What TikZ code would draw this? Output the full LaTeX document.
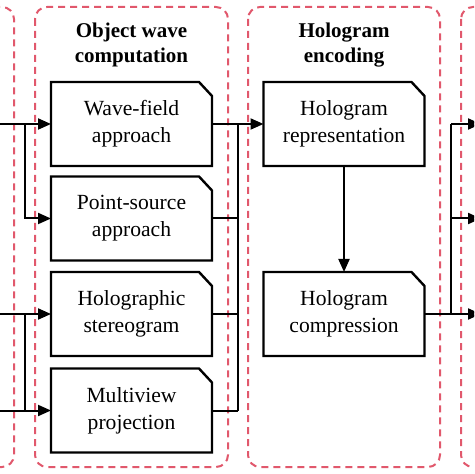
\documentclass[tikz,border=0pt]{standalone}
\usepackage{fontspec}
\setmainfont{Liberation Serif}
\usepackage{tikz}
\usetikzlibrary{positioning,arrows.meta,calc}
\definecolor{groupred}{RGB}{225,88,108}

\begin{document}
\begin{tikzpicture}[
    x=0.5pt,y=-0.5pt,
    line width=1pt,
    font=\fontsize{10.8}{13.5}\selectfont,
    %
    group/.style={draw=groupred, dash pattern=on 3.5pt off 2.5pt, line width=1pt, rounded corners=6pt},
    title/.style={align=center, font=\fontsize{10.5}{12.5}\selectfont\bfseries},
    card/.style={rectangle, minimum width=79.5pt, minimum height=41pt, align=center, inner sep=0pt},
    edge/.style={draw=black, line width=1.2pt},
    %
    pre/.style={-{Triangle[length=6.5pt,width=5.5pt]}}
    ]

    \useasboundingbox (0,0) rectangle (474,474);
    \clip (0,0) rectangle (474,474);

    % stage frames
    \draw[group] (-40,7) rectangle (14,467);
    \draw[group] (35,7) rectangle (228,467);
    \draw[group] (248,7) rectangle (440,467);
    \draw[group] (461,7) rectangle (520,467);

    \node[title] (objtitle) at (131.5,45) {Object wave\\computation};
    \node[title] (enctitle) at (344,45) {Hologram\\encoding};

    % object wave computation
    \node[card] (wave)   at (131.5,124)   {Wave-field\\approach};
    \node[card] (point)  at (131.5,218.5) {Point-source\\approach};
    \node[card] (stereo) at (131.5,314)   {Holographic\\stereogram};
    \node[card] (multi)  at (131.5,410.5) {Multiview\\projection};

    % hologram encoding
    \node[card] (rep)  at (344,124) {Hologram\\representation};
    \node[card] (comp) at (344,314) {Hologram\\compression};

    % dog-eared outlines
    \foreach \n in {wave,point,stereo,multi,rep,comp}
        \draw[edge] (\n.south west) -- (\n.north west)
            -- ([xshift=-6.5pt]\n.north east) -- ([yshift=-7pt]\n.north east)
            -- (\n.south east) -- cycle;

    % inputs
    \coordinate (in1) at (0,124);
    \coordinate (in2) at (0,314);
    \coordinate (in3) at (0,410.5);
    \coordinate (s1) at (25,124);
    \coordinate (s2) at (25,314);
    \coordinate (s3) at (25,410.5);

    \draw[pre] (in1) -- (wave.west);
    \draw[pre] (s1) |- (point.west);
    \draw[pre] (in2) -- (stereo.west);
    \draw[pre] (in3) -- (multi.west);
    \draw (s2) -- (s3);

    % collect into encoding
    \coordinate (b1) at (238,124);
    \coordinate (b4) at (238,410.5);
    \draw (b1) -- (b4);
    \draw (point.east) -- (point.east -| b1);
    \draw (stereo.east) -- (stereo.east -| b1);
    \draw (multi.east) -- (multi.east -| b1);
    \draw[pre] (wave.east) -- (rep.west);
    \draw[pre] (rep.south) -- (comp.north);

    % outputs
    \coordinate (c1) at (451,124);
    \coordinate (c2) at (451,218.5);
    \coordinate (out1) at (481,124);
    \coordinate (out2) at (481,218.5);
    \coordinate (out3) at (481,314);
    \draw (c1) -- (comp.east -| c1);
    \draw[pre] (c1) -- (out1);
    \draw[pre] (c2) -- (out2);
    \draw[pre] (comp.east) -- (out3);
    %
\end{tikzpicture}
\end{document}
